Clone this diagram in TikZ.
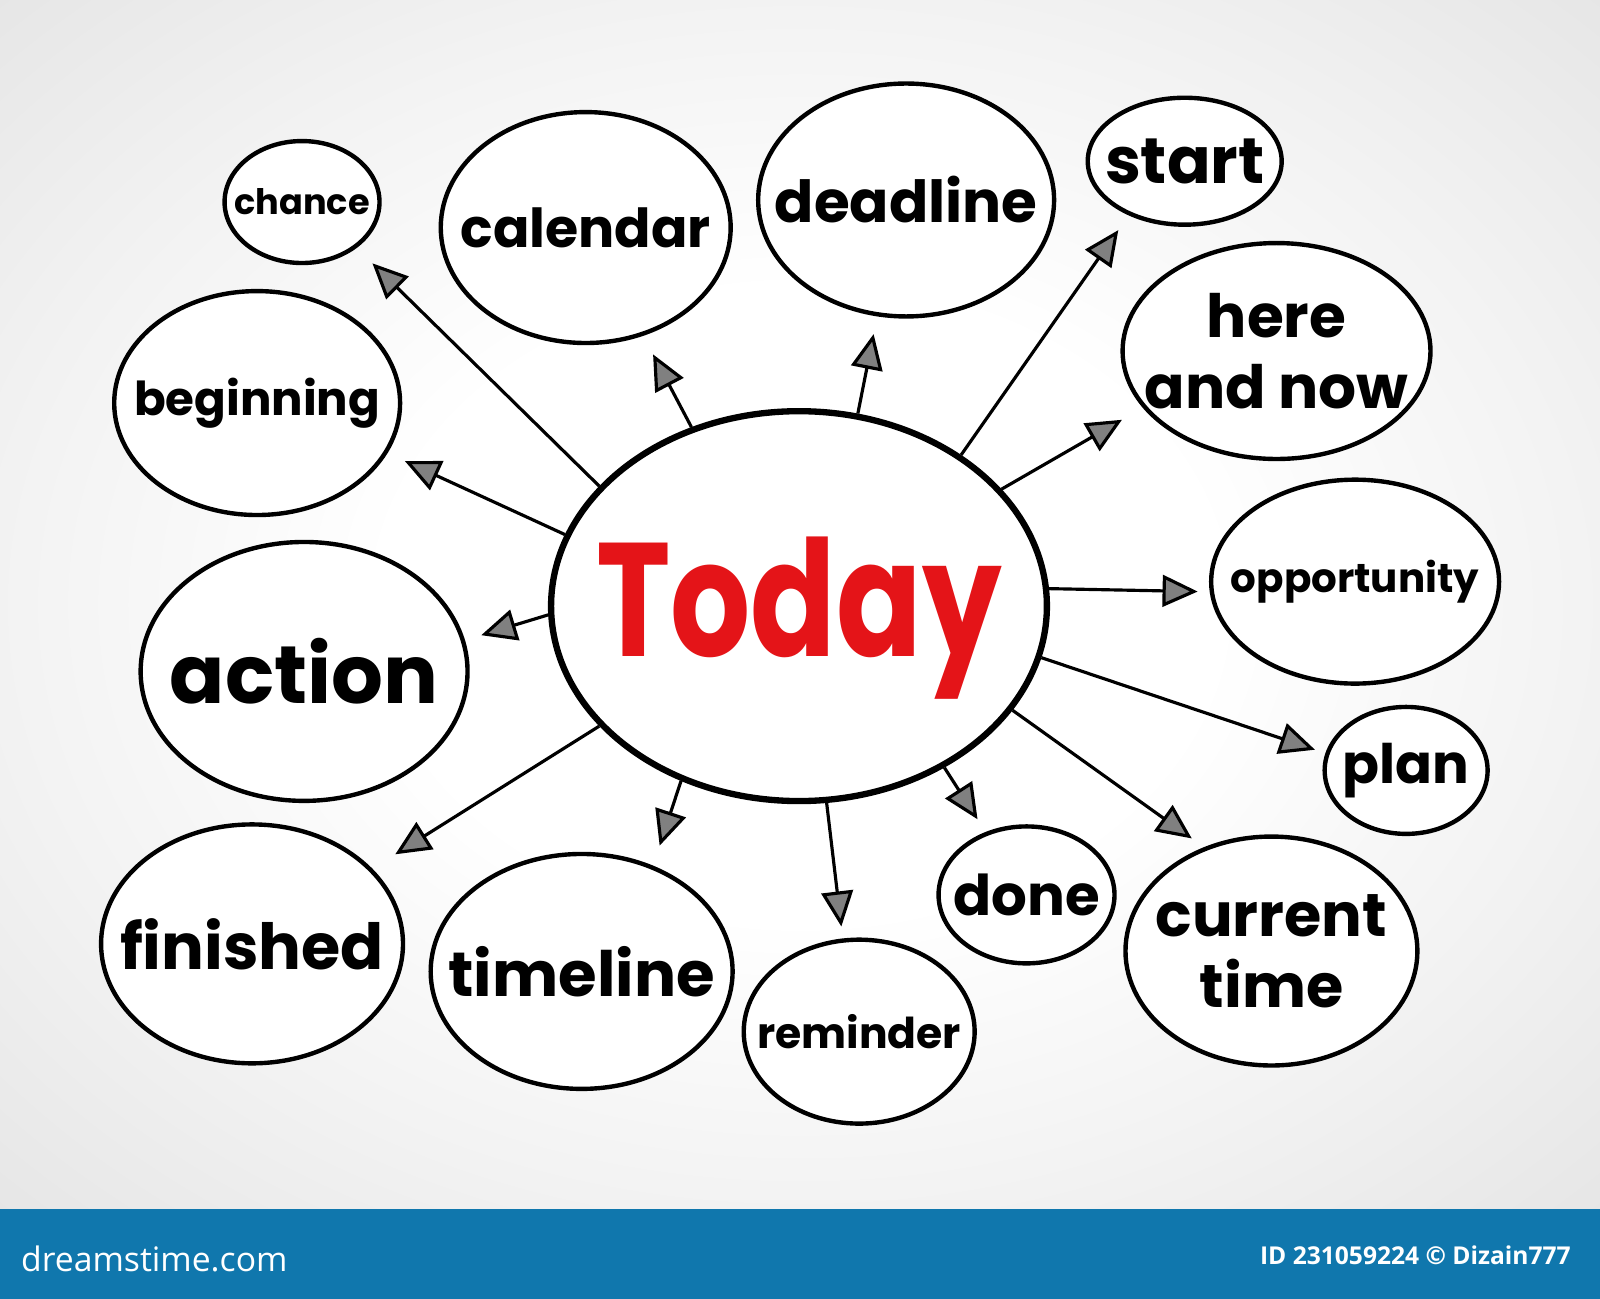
\documentclass[tikz,border=0pt]{standalone}
\usepackage{graphicx}
\usepackage{fontspec}
\setmainfont{Poppins}
\newfontfamily\bannerfont{Open Sans}
\usetikzlibrary{shapes.geometric,arrows.meta}
\definecolor{todayred}{RGB}{228,20,24}
\definecolor{bannerblue}{RGB}{16,119,173}
\pgfdeclareradialshading{paper}{\pgfpoint{0bp}{0bp}}{color(0bp)=(white); color(13bp)=(white); color(25bp)=(black!5); color(36bp)=(black!10); color(50bp)=(black!10)}

\begin{document}
\begin{tikzpicture}[x=0.010204cm, y=-0.010204cm,
    bubble/.style={draw, ellipse, line width=1.25pt, fill=white, inner sep=0pt},
    word/.style={font=\bfseries\fontsize{#1}{#1}\selectfont, align=center, inner sep=0pt},
    link/.style={line width=0.9pt, -{Triangle[length=10pt,width=9pt,fill=black!50]}}]
    \useasboundingbox (0,0) rectangle (1568,1273);
    \shade[shading=paper] (0,0) rectangle (1568,1185);

    % centre
    \node (today) at (783,594) [bubble, line width=1.8pt, minimum width=4.96cm, minimum height=3.9cm,
        label={[word=46, text=todayred, yshift=-0.12cm]center:\scalebox{0.78}[1]{Today}}] {};

    % words round the centre
    \node (chance) at (296,198) [bubble, minimum width=1.55cm, minimum height=1.22cm, label={[word=10]center:chance}] {};
    \node (calendar) at (574,223) [bubble, minimum width=2.9cm, minimum height=2.31cm, label={[word=15.3]center:calendar}] {};
    \node (deadline) at (888,196) [bubble, minimum width=2.96cm, minimum height=2.33cm, label={[word=16.5]center:deadline}] {};
    \node (start) at (1161,158) [bubble, minimum width=1.94cm, minimum height=1.27cm, label={[word=18.3]center:start}] {};
    \node (here) at (1251,344) [bubble, minimum width=3.08cm, minimum height=2.16cm, label={[word=17]center:here\\[3pt]and now}] {};
    \node (opportunity) at (1328,570) [bubble, minimum width=2.88cm, minimum height=2.04cm, label={[word=11.5]center:opportunity}] {};
    \node (plan) at (1378,755) [bubble, minimum width=1.63cm, minimum height=1.27cm, label={[word=15.5]center:plan}] {};
    \node (current) at (1246,932) [bubble, minimum width=2.92cm, minimum height=2.29cm, label={[word=17.2]center:current\\[3pt]time}] {};
    \node (done) at (1006,877) [bubble, minimum width=1.76cm, minimum height=1.37cm, label={[word=16]center:done}] {};
    \node (reminder) at (842,1011) [bubble, minimum width=2.31cm, minimum height=1.84cm, label={[word=12.1]center:reminder}] {};
    \node (timeline) at (570,952) [bubble, minimum width=3.02cm, minimum height=2.35cm, label={[word=17.8]center:timeline}] {};
    \node (finished) at (247,925) [bubble, minimum width=3.02cm, minimum height=2.39cm, label={[word=18.1]center:finished}] {};
    \node (action) at (298,658) [bubble, minimum width=3.27cm, minimum height=2.59cm, label={[word=23.2]center:action}] {};
    \node (beginning) at (252,395) [bubble, minimum width=2.86cm, minimum height=2.24cm, label={[word=13.3]center:beginning}] {};

    % arrows
    \draw[link, shorten >=0.22cm] (today.149) -- (chance.-40);
    \draw[link, shorten >=0.21cm] (today.121) -- (calendar.-62);
    \draw[link, shorten >=0.18cm] (today.73) -- (deadline.256);
    \draw[link, shorten >=0.18cm] (today.43) -- (start.224);
    \draw[link, shorten >=0.24cm] (today.30) -- (here.203);
    \draw[link, shorten >=0.12cm] (today.4) -- (opportunity.184);
    \draw[link, shorten >=0.11cm] (today.-12) -- (plan.168);
    \draw[link, shorten >=0.15cm] (today.-26) -- (current.123);
    \draw[link, shorten >=0.15cm] (today.-48) -- (done.123);
    \draw[link, shorten >=0.12cm] (today.-82) -- (reminder.100);
    \draw[link, shorten >=0.21cm] (today.-124) -- (timeline.56);
    \draw[link, shorten >=0.27cm] (today.211) -- (finished.32);
    \draw[link, shorten >=0.17cm] (today.182) -- (action.11);
    \draw[link, shorten >=0.19cm] (today.163) -- (beginning.-21);

    % banner
    \fill[bannerblue] (0,1185) rectangle (1568,1273);
    \node (site) at (20,1234) [anchor=west, inner sep=0pt, text=white, font=\bannerfont\fontsize{9.6}{9.6}\selectfont] {dreamstime.com};
    \node (photoid) at (1540,1230) [anchor=east, inner sep=0pt, text=white, font=\bannerfont\bfseries\fontsize{7}{7}\selectfont] {ID 231059224 © Dizain777};
\end{tikzpicture}
\end{document}
